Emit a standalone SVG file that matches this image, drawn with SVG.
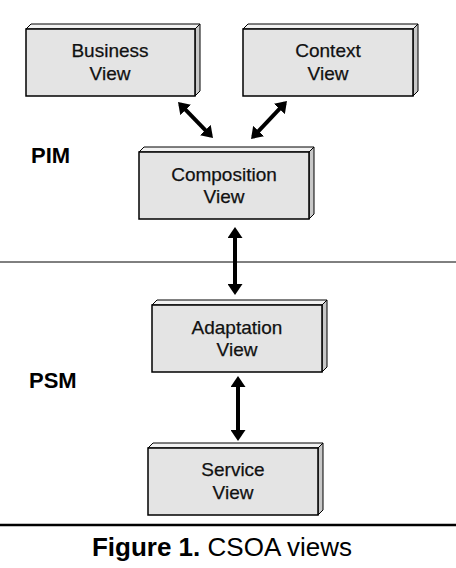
<svg xmlns="http://www.w3.org/2000/svg" width="456" height="568" viewBox="0 0 456 568">
<style>
.front{fill:#e4e4e4;stroke:#000;stroke-width:1.5}
.top{fill:#f2f2f2;stroke:#000;stroke-width:1}
.side{fill:#c8c8c8;stroke:#000;stroke-width:1}
.lbl{font-family:"Liberation Sans",Arial,sans-serif;font-size:19px;fill:#111;stroke:#111;stroke-width:0.25;text-anchor:middle}
.sec{font-family:"Liberation Sans",Arial,sans-serif;font-size:22px;font-weight:bold;fill:#000}
.arr{stroke:#000;stroke-width:4;fill:none;marker-start:url(#ah);marker-end:url(#ah)}
</style>
<defs>
<marker id="ah" viewBox="0 0 11 15" refX="8" refY="7.5" markerWidth="11" markerHeight="15" orient="auto-start-reverse" markerUnits="userSpaceOnUse">
<path d="M0,0 L11,7.5 L0,15 z" fill="#000"/>
</marker>
</defs>
<rect width="456" height="568" fill="#fff"/>
<g id="separators">
<line x1="0" y1="262" x2="456" y2="262" stroke="#000" stroke-width="1"/>
<line x1="0" y1="525" x2="456" y2="525" stroke="#000" stroke-width="2.5"/>
</g>
<text class="sec" x="31" y="163">PIM</text>
<text class="sec" x="29" y="388">PSM</text>
<g id="business">
<polygon class="top" points="26,29 31,24 200,24 195,29"/>
<polygon class="side" points="195,29 200,24 200,91 195,96"/>
<rect class="front" x="26" y="29" width="169" height="67"/>
<text class="lbl" x="110" y="57">Business</text>
<text class="lbl" x="110" y="80">View</text>
</g>
<g id="context">
<polygon class="top" points="243,29 248,24 418,24 413,29"/>
<polygon class="side" points="413,29 418,24 418,91 413,96"/>
<rect class="front" x="243" y="29" width="170" height="67"/>
<text class="lbl" x="328" y="57">Context</text>
<text class="lbl" x="328" y="80">View</text>
</g>
<g id="composition">
<polygon class="top" points="139,152 144,147 314,147 309,152"/>
<polygon class="side" points="309,152 314,147 314,214 309,219"/>
<rect class="front" x="139" y="152" width="170" height="67"/>
<text class="lbl" x="224" y="181">Composition</text>
<text class="lbl" x="224" y="203">View</text>
</g>
<g id="adaptation">
<polygon class="top" points="152,305 157,300 327,300 322,305"/>
<polygon class="side" points="322,305 327,300 327,367 322,372"/>
<rect class="front" x="152" y="305" width="170" height="67"/>
<text class="lbl" x="237" y="334">Adaptation</text>
<text class="lbl" x="237" y="356">View</text>
</g>
<g id="service">
<polygon class="top" points="148,448 153,443 323,443 318,448"/>
<polygon class="side" points="318,448 323,443 323,510 318,515"/>
<rect class="front" x="148" y="448" width="170" height="67"/>
<text class="lbl" x="233" y="476">Service</text>
<text class="lbl" x="233" y="499">View</text>
</g>
<g id="connectors">
<line class="arr" x1="180.1" y1="104.2" x2="210.9" y2="135.8"/>
<line class="arr" x1="284.9" y1="103.2" x2="253.1" y2="136.8"/>
<line class="arr" x1="235" y1="230" x2="235" y2="292"/>
<line class="arr" x1="238" y1="379" x2="238" y2="438"/>
</g>
<text x="222" y="556" font-family="'Liberation Sans',Arial,sans-serif" font-size="26" text-anchor="middle" fill="#000"><tspan font-weight="bold">Figure 1.</tspan> CSOA views</text>
</svg>
